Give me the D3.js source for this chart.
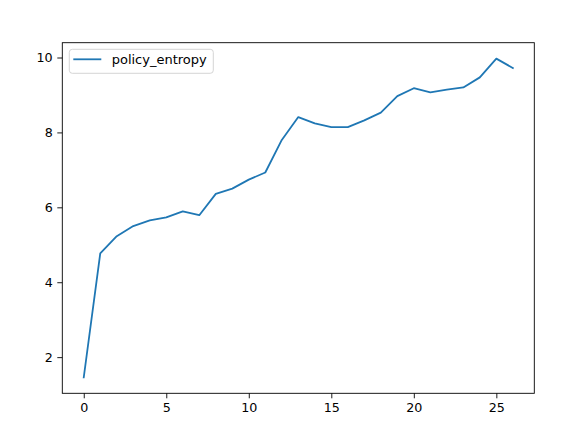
<!DOCTYPE html>
<html>
<head>
<meta charset="utf-8">
<script src="https://cdn.jsdelivr.net/npm/d3@7"></script>
<style>
  body { margin: 0; background: #fff; }
  svg { font-family: "DejaVu Sans", sans-serif; }
</style>
</head>
<body>
<div id="svg-container"></div>
<script>
// data
const steps = d3.range(0, 27);
const policyEntropy = [
  1.46, 4.77, 5.23, 5.5, 5.65, 5.73, 5.89, 5.79, 6.36, 6.5,
  6.74, 6.93, 7.8, 8.41, 8.24, 8.14, 8.14, 8.32, 8.53, 8.97,
  9.18, 9.07, 9.14, 9.2, 9.47, 9.97, 9.72
];
const seriesName = "policy_entropy";
const xTicks = [0, 5, 10, 15, 20, 25];
const yTicks = [2, 4, 6, 8, 10];

const width = 588;
const height = 432;
const margin = { top: 42.7, right: 53.7, bottom: 38.7, left: 62.3 };

const svg = d3.select("#svg-container").append("svg")
  .attr("width", width)
  .attr("height", height);

// scales (matplotlib style 5% padding)
const xPad = (d3.max(steps) - d3.min(steps)) * 0.05;
const yExt = d3.extent(policyEntropy);
const yPad = (yExt[1] - yExt[0]) * 0.05;

const xScale = d3.scaleLinear()
  .domain([d3.min(steps) - xPad, d3.max(steps) + xPad])
  .range([margin.left, width - margin.right]);
const yScale = d3.scaleLinear()
  .domain([yExt[0] - yPad, yExt[1] + yPad])
  .range([height - margin.bottom, margin.top]);

// axes
const xAxis = d3.axisBottom(xScale)
  .tickValues(xTicks)
  .tickSize(5)
  .tickPadding(5)
  .tickSizeOuter(0);
const yAxis = d3.axisLeft(yScale)
  .tickValues(yTicks)
  .tickSize(5)
  .tickPadding(4.6)
  .tickSizeOuter(0);

svg.append("g")
  .attr("class", "x-axis")
  .attr("transform", `translate(0, ${height - margin.bottom})`)
  .call(xAxis)
  .call((g) => g.select(".domain").remove());

svg.append("g")
  .attr("class", "y-axis")
  .attr("transform", `translate(${margin.left}, 0)`)
  .call(yAxis)
  .call((g) => g.select(".domain").remove());

svg.selectAll(".tick text")
  .attr("font-size", 12.7)
  .attr("font-family", "DejaVu Sans")
  .attr("fill", "#000");
svg.selectAll(".tick line").attr("stroke", "#000").attr("stroke-width", 0.9);

// line
const line = d3.line()
  .x((d, i) => xScale(steps[i]))
  .y((d) => yScale(d));

svg.append("path")
  .datum(policyEntropy)
  .attr("fill", "none")
  .attr("stroke", "#1f77b4")
  .attr("stroke-width", 1.8)
  .attr("stroke-linejoin", "round")
  .attr("stroke-linecap", "square")
  .attr("d", line);

// frame
svg.append("rect")
  .attr("x", margin.left)
  .attr("y", margin.top)
  .attr("width", width - margin.left - margin.right)
  .attr("height", height - margin.top - margin.bottom)
  .attr("fill", "none")
  .attr("stroke", "#000")
  .attr("stroke-width", 0.9);

// legend
const legend = svg.append("g").attr("transform", `translate(${margin.left + 7}, ${margin.top + 6.6})`);
legend.append("rect")
  .attr("width", 144)
  .attr("height", 24)
  .attr("rx", 3)
  .attr("fill", "#fff")
  .attr("fill-opacity", 0.8)
  .attr("stroke", "#d0d0d0")
  .attr("stroke-width", 0.9);
legend.append("line")
  .attr("x1", 4).attr("x2", 32)
  .attr("y1", 10).attr("y2", 10)
  .attr("stroke", "#1f77b4")
  .attr("stroke-width", 1.8);
legend.append("text")
  .attr("x", 42.4)
  .attr("y", 14.8)
  .attr("font-size", 13)
  .attr("fill", "#000")
  .text(seriesName);
</script>
</body>
</html>
